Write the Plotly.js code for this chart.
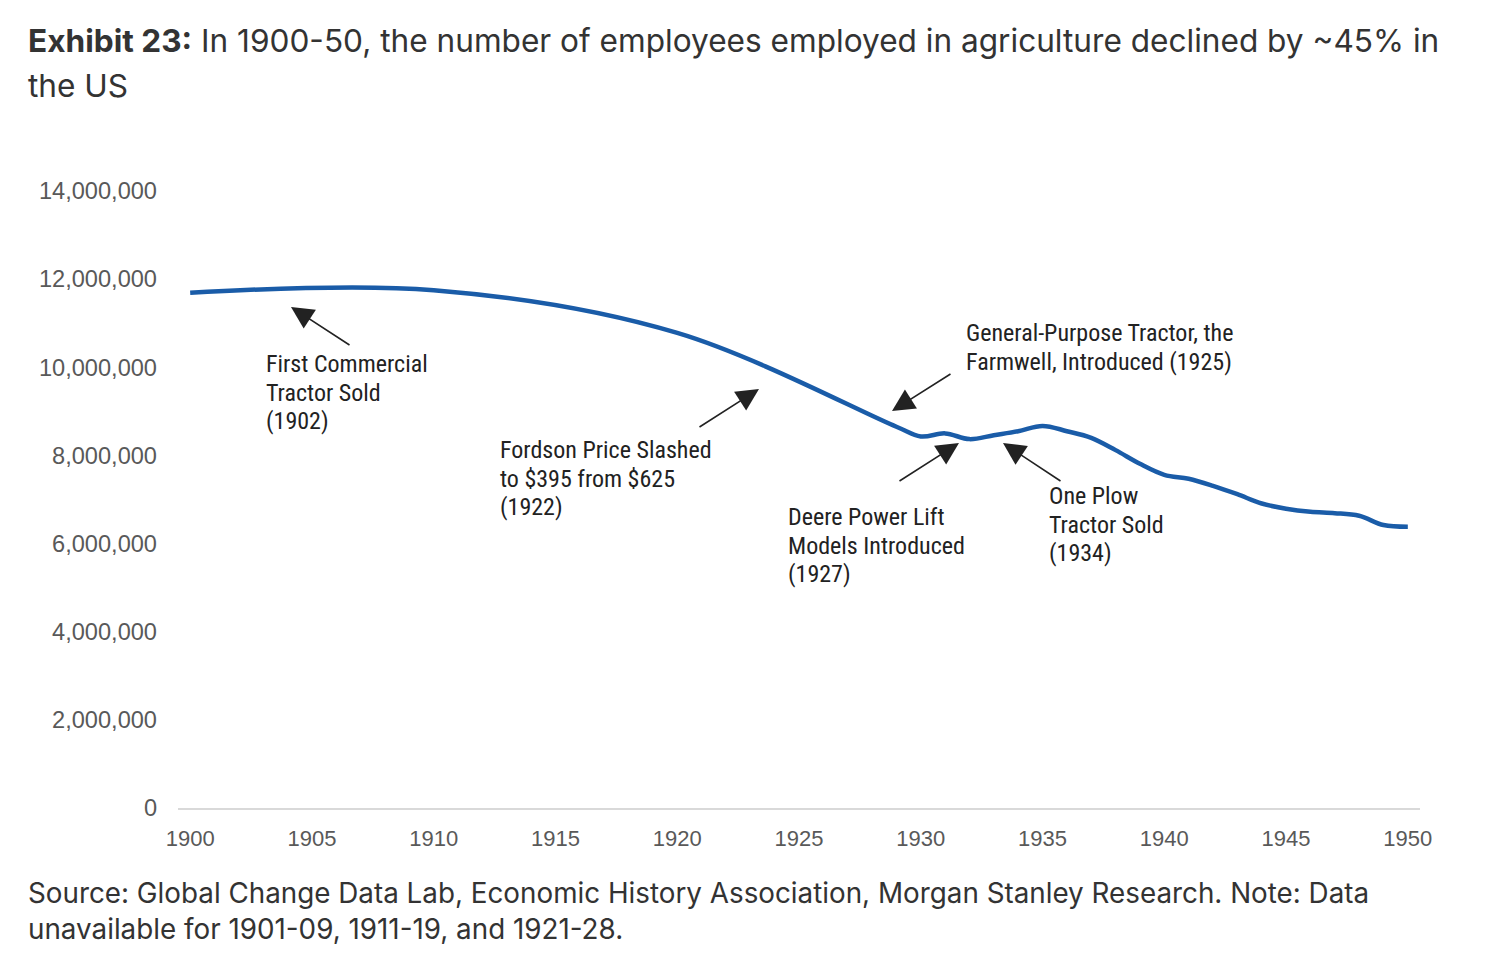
<!DOCTYPE html>
<html>
<head>
<meta charset="utf-8">
<script src="https://cdn.plot.ly/plotly-3.0.1.min.js"></script>
<style>
  html, body { margin: 0; padding: 0; background: #ffffff; }
  #chart { width: 1485px; height: 973px; }
</style>
</head>
<body>
<div id="chart"></div>
<script>
// US agricultural employment, 1900-1950 (annual data only from 1929 on)
const years = [1900, 1910, 1920,
  1929, 1930, 1931, 1932, 1933, 1934, 1935, 1936, 1937, 1938, 1939,
  1940, 1941, 1942, 1943, 1944, 1945, 1946, 1947, 1948, 1949, 1950];
const workers = [11690000, 11750000, 10780000,
  8650000, 8430000, 8500000, 8370000, 8460000, 8550000, 8670000, 8550000, 8400000, 8120000, 7810000,
  7560000, 7470000, 7310000, 7120000, 6910000, 6790000, 6720000, 6690000, 6630000, 6420000, 6380000];

const xTicks = [1900, 1905, 1910, 1915, 1920, 1925, 1930, 1935, 1940, 1945, 1950];
const yTicks = [0, 2000000, 4000000, 6000000, 8000000, 10000000, 12000000, 14000000];

// Milestone callouts, one entry per line of text
const milestoneText = [
  ['First Commercial', 'Tractor Sold', '(1902)'],
  ['Fordson Price Slashed', 'to $395 from $625', '(1922)'],
  ['General-Purpose Tractor, the', 'Farmwell, Introduced (1925)'],
  ['Deere Power Lift', 'Models Introduced', '(1927)'],
  ['One Plow', 'Tractor Sold', '(1934)']
];

const titleText = '<b>Exhibit 23:</b> In 1900-50, the number of employees employed in agriculture declined by ~45% in';
const titleText2 = 'the US';
const sourceText = 'Source: Global Change Data Lab, Economic History Association, Morgan Stanley Research. Note: Data';
const sourceText2 = 'unavailable for 1901-09, 1911-19, and 1921-28.';

const W = 1485, H = 973;
const M = { l: 178, r: 65, t: 191, b: 165 };
const PW = W - M.l - M.r, PH = H - M.t - M.b;
// page pixel -> paper fraction helpers for text placement
const px = x => (x - M.l) / PW;
const py = y => (H - M.b - y) / PH;

const calloutFont = { family: '"Roboto Condensed", "Liberation Sans Narrow", "DejaVu Sans Condensed", sans-serif', size: 24, color: '#222222' };
const textFont = { family: 'Inter, "Noto Sans", sans-serif', color: '#333333' };

// left edge and first-line centre of each callout, in page pixels
const labelPos = [ [264, 364], [498, 450], [964, 333], [786, 517], [1047, 496] ];
const lineStep = 28.6;
const arrows = [
  { head: [291, 307], tail: [351, 346] },
  { head: [759, 389], tail: [698, 428] },
  { head: [892, 411], tail: [952, 373] },
  { head: [959, 443], tail: [898, 482] },
  { head: [1003, 443], tail: [1062, 482] }
];

const annotations = [];
milestoneText.forEach((lines, i) => {
  lines.forEach((t, j) => {
    annotations.push({
      xref: 'paper', yref: 'paper', x: px(labelPos[i][0]), y: py(labelPos[i][1] + j * lineStep),
      xanchor: 'left', yanchor: 'middle', align: 'left', showarrow: false,
      text: t, font: calloutFont
    });
  });
  const a = arrows[i];
  annotations.push({
    xref: 'paper', yref: 'paper', x: px(a.head[0]), y: py(a.head[1]),
    axref: 'pixel', ayref: 'pixel', ax: a.tail[0] - a.head[0], ay: a.tail[1] - a.head[1],
    text: '', showarrow: true, arrowhead: 2, arrowsize: 2.8, arrowwidth: 1.6, arrowcolor: '#222222',
    standoff: 0, startstandoff: 0
  });
});

annotations.push(
  { xref: 'paper', yref: 'paper', x: px(26), y: py(41), xanchor: 'left', yanchor: 'middle', showarrow: false,
    text: titleText, font: Object.assign({ size: 31.6 }, textFont) },
  { xref: 'paper', yref: 'paper', x: px(26), y: py(85), xanchor: 'left', yanchor: 'middle', showarrow: false,
    text: titleText2, font: Object.assign({ size: 31.6 }, textFont) },
  { xref: 'paper', yref: 'paper', x: px(26), y: py(893), xanchor: 'left', yanchor: 'middle', showarrow: false,
    text: sourceText, font: Object.assign({ size: 27.8 }, textFont) },
  { xref: 'paper', yref: 'paper', x: px(26), y: py(929), xanchor: 'left', yanchor: 'middle', showarrow: false,
    text: sourceText2, font: Object.assign({ size: 27.8 }, textFont) }
);

const trace = {
  type: 'scatter', mode: 'lines', x: years, y: workers,
  line: { color: '#1a5ca8', width: 4.5, shape: 'spline', smoothing: 1 },
  hoverinfo: 'x+y'
};

const xTickFont = { family: '"Liberation Sans", Arial, sans-serif', size: 22, color: '#595959' };
const yTickFont = { family: '"Liberation Sans", Arial, sans-serif', size: 23.6, color: '#595959' };

const layout = {
  width: W, height: H,
  margin: M,
  paper_bgcolor: '#ffffff', plot_bgcolor: '#ffffff',
  showlegend: false,
  xaxis: {
    range: [1899.5, 1950.5], tickvals: xTicks, ticktext: xTicks.map(String),
    showgrid: false, zeroline: false, showline: true, linecolor: '#d9d9d9', linewidth: 1.5,
    ticks: '', ticklabelstandoff: 10, tickfont: xTickFont, fixedrange: true
  },
  yaxis: {
    range: [0, 14000000], tickvals: yTicks,
    ticktext: yTicks.map(v => v.toLocaleString('en-US')),
    showgrid: false, zeroline: false, showline: false,
    ticks: '', ticklabelstandoff: 20, tickfont: yTickFont, fixedrange: true
  },
  annotations: annotations
};

Plotly.newPlot('chart', [trace], layout, { displayModeBar: false, staticPlot: true });
</script>
</body>
</html>
